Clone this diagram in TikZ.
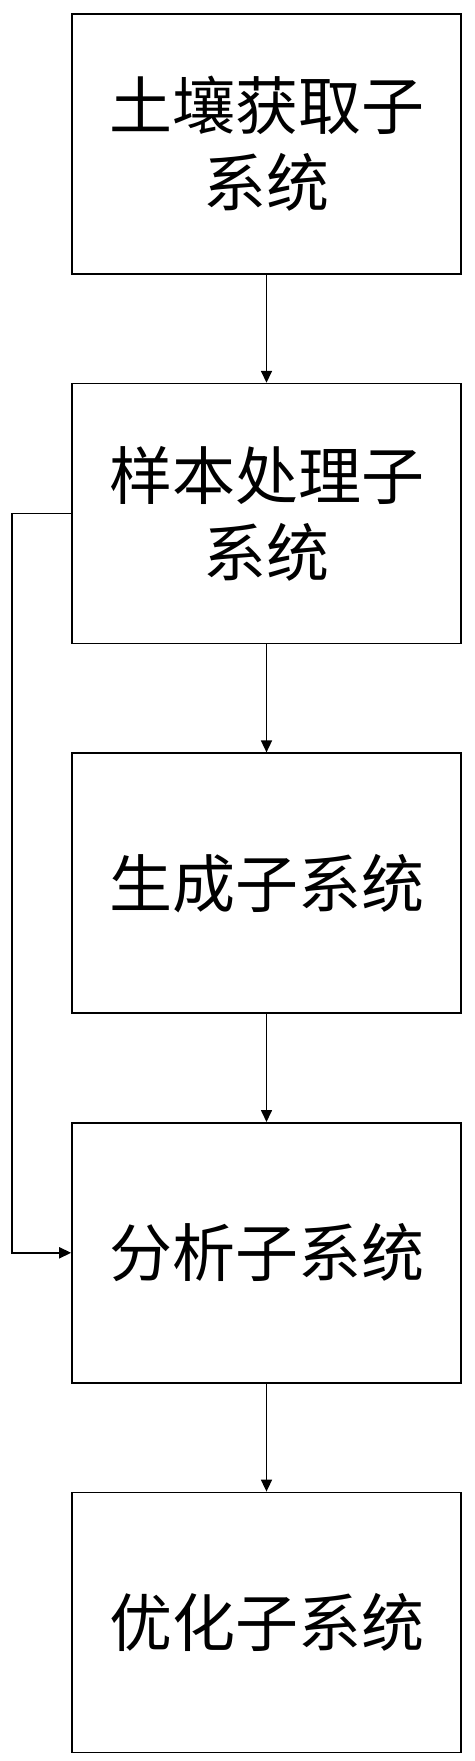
\documentclass[tikz,border=0pt]{standalone}
\usepackage{fontspec}
\newfontfamily\cjk{Noto Sans CJK SC}
\usepackage{tikz}
\usetikzlibrary{arrows.meta, positioning}

\begin{document}
\begin{tikzpicture}[
    auto,
    block/.style={
        rectangle,
        draw=black,
        line width=1.6pt,
        minimum width=389pt,
        minimum height=260pt,
        align=center,
        inner sep=0pt,
        font=\cjk\fontsize{63}{77}\selectfont
    },
    line/.style={
        draw,
        line width=1.6pt,
        -{Triangle[length=12pt, width=11pt]}
    }
]
\useasboundingbox (0,0) rectangle (474pt,-1761pt);

% Nodes
\node [block] (soil) at (266.5pt,-144pt) {土壤获取子\\系统};
\node [block, below=108pt of soil] (sample) {样本处理子\\系统};
\node [block, below=108pt of sample] (gen) {生成子系统};
\node [block, below=108pt of gen] (analysis) {分析子系统};
\node [block, below=108pt of analysis] (optim) {优化子系统};

% Edges
\path [line] (soil) -- (sample);
\path [line] (sample) -- (gen);
\path [line] (gen) -- (analysis);
\path [line] (analysis) -- (optim);
\path [line] (sample.west) -- ++(-59pt,0) |- (analysis.west);

\end{tikzpicture}
\end{document}
